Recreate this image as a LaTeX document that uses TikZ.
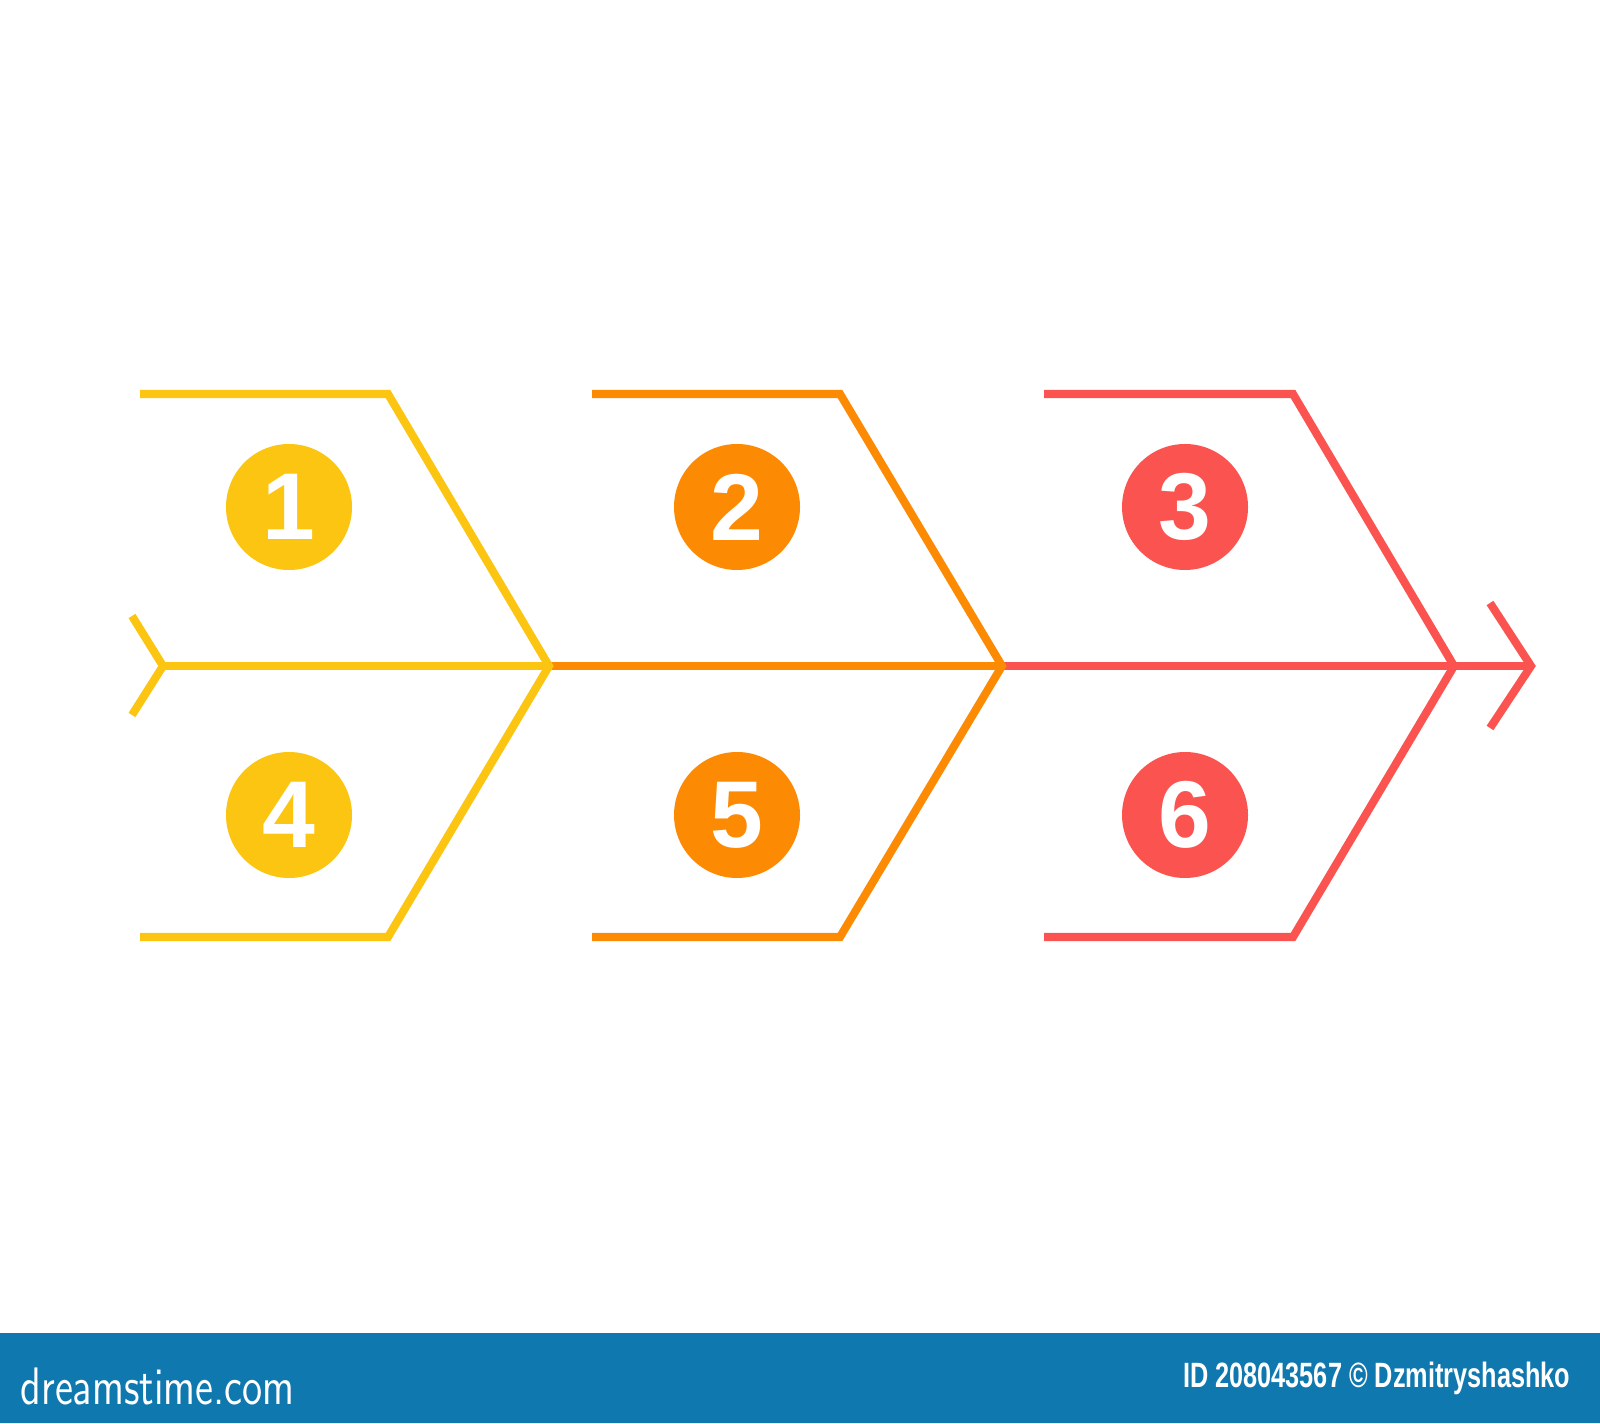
\documentclass[tikz,border=0pt]{standalone}
\usepackage{fontspec}
\setmainfont{Liberation Sans}
\usepackage{graphicx}
\usepackage{tikz}
\usetikzlibrary{positioning}
\definecolor{stageA}{HTML}{FCC511}
\definecolor{stageB}{HTML}{FD8A03}
\definecolor{stageC}{HTML}{FB5450}
\definecolor{bannerblue}{HTML}{0F78AE}

\begin{document}
\begin{tikzpicture}[
font=\bfseries\sffamily,
fishline/.style={line width=2.3pt,line join=miter},
numdot/.style={circle,minimum size=1.26cm,inner sep=0pt,text=white,font=\bfseries\fontsize{27}{27}\selectfont},
scale=1]
    \useasboundingbox (0,0) rectangle (16,14.23);

    % Points on the spine
    \coordinate (tail) at (1.63,7.57);
    \coordinate (jA) at (5.49,7.57);
    \coordinate (jB) at (10.02,7.57);
    \coordinate (jC) at (14.54,7.57);
    \coordinate (head) at (15.31,7.57);

    % Draw spine
    \draw[fishline,stageA] (tail) -- (jA);
    \draw[fishline,stageB] (jA) -- (jB);
    \draw[fishline,stageC] (jB) -- (head);
    \draw[fishline,stageA] (1.32,8.07) -- (tail) -- (1.32,7.08);
    \draw[fishline,stageC] (14.90,8.20) -- (head) -- (14.90,6.95);

    % Draw bones
    \draw[fishline,stageA] (1.40,10.29) -- (3.88,10.29) -- (jA) -- (3.88,4.86) -- (1.40,4.86);
    \draw[fishline,stageB] (5.92,10.29) -- (8.40,10.29) -- (jB) -- (8.40,4.86) -- (5.92,4.86);
    \draw[fishline,stageC] (10.44,10.29) -- (12.93,10.29) -- (jC) -- (12.93,4.86) -- (10.44,4.86);

    % Numbered steps
    \node[numdot,fill=stageA] (one) at (2.89,9.16) {1};
    \node[numdot,fill=stageB] (two) at (7.37,9.16) {2};
    \node[numdot,fill=stageC] (three) at (11.85,9.16) {3};
    \node[numdot,fill=stageA] (four) at (2.89,6.08) {4};
    \node[numdot,fill=stageB] (five) at (7.37,6.08) {5};
    \node[numdot,fill=stageC] (six) at (11.85,6.08) {6};

    % Banner
    \fill[bannerblue] (0,0) rectangle (16,0.90);
    \node[text=white,anchor=west,inner sep=0pt,font=\sffamily\fontsize{15}{15}\selectfont] (site) at (0.20,0.37) {\scalebox{0.78}[1]{dreamstime.com}};
    \node[text=white,anchor=east,inner sep=0pt,font=\bfseries\fontsize{10}{10}\selectfont] (credit) at (15.71,0.45) {\scalebox{0.72}[1]{ID 208043567 © Dzmitryshashko}};
\end{tikzpicture}
\end{document}
